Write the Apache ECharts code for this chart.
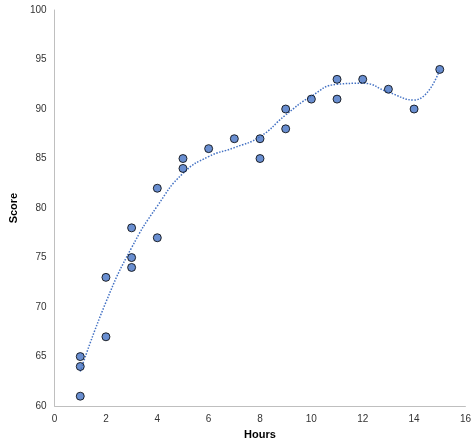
<!DOCTYPE html>
<html><head><meta charset="utf-8">
<script src="https://cdn.jsdelivr.net/npm/echarts@6/dist/echarts.min.js"></script>
<style>html,body{margin:0;padding:0;background:#fff}#c{width:474px;height:445px}</style>
</head><body><div id="c"></div>
<script>
const hours = [1,1,1,2,2,3,3,3,4,4,5,5,6,7,8,8,9,9,10,11,11,12,13,14,15];
const scores = [65,64,61,73,67,78,75,74,82,77,85,84,86,87,87,85,90,88,91,93,91,93,92,90,94];
const trendX = [1,2,3,4,5,6,7,8,9,10,11,12,13,14,15];
const trendY = [63.5,70.5,76,80.2,83.5,85.2,86.1,87.2,89.4,91.3,92.5,92.6,91.7,90.9,94];
const chart = echarts.init(document.getElementById('c'));
chart.setOption({
  animation:false,
  grid:{left:44,right:8,top:10,bottom:38},
  xAxis:{type:'value',min:0,max:16,interval:2,name:'Hours',nameLocation:'middle',nameGap:22,
    nameTextStyle:{fontWeight:'bold',fontSize:11,color:'#000'},
    axisLine:{lineStyle:{color:'#bfbfbf'}},axisTick:{show:false},splitLine:{show:false},
    axisLabel:{color:'#333',fontSize:10}},
  yAxis:{type:'value',min:60,max:100,interval:5,name:'Score',nameLocation:'middle',nameGap:26,
    nameTextStyle:{fontWeight:'bold',fontSize:11,color:'#000'},
    axisLine:{show:true,lineStyle:{color:'#bfbfbf'}},axisTick:{show:false},splitLine:{show:false},
    axisLabel:{color:'#333',fontSize:10}},
  series:[
    {type:'line',data:trendX.map((x,i)=>[x,trendY[i]]),smooth:0.5,symbol:'none',
     lineStyle:{type:'dotted',color:'#4472c4',width:1.5},z:1},
    {type:'scatter',data:hours.map((x,i)=>[x,scores[i]]),symbolSize:8,
     itemStyle:{color:'#4472c4',borderColor:'#000',borderWidth:1},z:2}
  ]
});
</script></body></html>
